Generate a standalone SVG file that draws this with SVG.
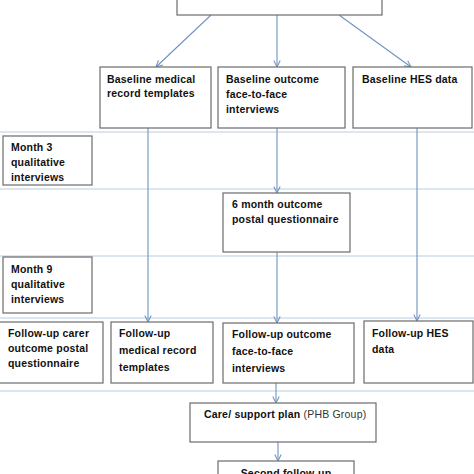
<svg xmlns="http://www.w3.org/2000/svg" width="474" height="474" viewBox="0 0 474 474">
<defs>
<style>
.box{fill:#fff;stroke:#6b6b6b;stroke-width:1.2}
.sep{stroke:#b9cbe2;stroke-width:1.2}
.con{stroke:#6f93bf;stroke-width:1.1;fill:none}
text{font-family:"Liberation Sans",Arial,sans-serif;font-size:10.5px;font-weight:bold;fill:#111;letter-spacing:0.2px}
.n{font-weight:normal;fill:#333}
</style>
<marker id="arr" viewBox="0 0 10 10" refX="9" refY="5" markerWidth="8" markerHeight="8" orient="auto" markerUnits="userSpaceOnUse">
<polyline points="1,1 9,5 1,9" fill="none" stroke="#6f93bf" stroke-width="1.3"/>
</marker>
</defs>
<rect width="474" height="474" fill="#fff"/>
<g id="separators">
<line class="sep" x1="0" y1="132" x2="474" y2="132"/>
<line class="sep" x1="0" y1="189" x2="474" y2="189"/>
<line class="sep" x1="0" y1="256" x2="474" y2="256"/>
<line class="sep" x1="0" y1="318" x2="474" y2="318"/>
<line class="sep" x1="0" y1="391" x2="474" y2="391"/>
</g>
<g id="connectors">
<line class="con" x1="211" y1="15" x2="156" y2="67" marker-end="url(#arr)"/>
<line class="con" x1="277" y1="15" x2="277" y2="67" marker-end="url(#arr)"/>
<line class="con" x1="339" y1="15" x2="411" y2="67" marker-end="url(#arr)"/>
<line class="con" x1="148" y1="128" x2="148" y2="322" marker-end="url(#arr)"/>
<line class="con" x1="277" y1="128" x2="277" y2="193" marker-end="url(#arr)"/>
<line class="con" x1="417" y1="128" x2="417" y2="321" marker-end="url(#arr)"/>
<line class="con" x1="277" y1="252" x2="277" y2="323" marker-end="url(#arr)"/>
<line class="con" x1="276" y1="383" x2="276" y2="403" marker-end="url(#arr)"/>
<line class="con" x1="278" y1="442" x2="278" y2="461" marker-end="url(#arr)"/>
</g>
<g id="top"><rect class="box" x="177" y="-10" width="205" height="25"/></g>
<g id="baseline-medical"><rect class="box" x="100" y="67" width="111" height="61"/>
<text x="107" y="83">Baseline medical</text><text x="107" y="97">record templates</text></g>
<g id="baseline-outcome"><rect class="box" x="218" y="67" width="127" height="61"/>
<text x="226" y="83">Baseline outcome</text><text x="226" y="98">face-to-face</text><text x="226" y="113">interviews</text></g>
<g id="baseline-hes"><rect class="box" x="353" y="67" width="119" height="61"/>
<text x="362" y="83">Baseline HES data</text></g>
<g id="month3"><rect class="box" x="3" y="136" width="89" height="49"/>
<text x="11" y="151">Month 3</text><text x="11" y="166">qualitative</text><text x="11" y="181">interviews</text></g>
<g id="month6"><rect class="box" x="223" y="193" width="127" height="59"/>
<text x="232" y="208">6 month outcome</text><text x="232" y="223">postal questionnaire</text></g>
<g id="month9"><rect class="box" x="3" y="257" width="89" height="56"/>
<text x="11" y="273">Month 9</text><text x="11" y="288">qualitative</text><text x="11" y="303">interviews</text></g>
<g id="fu-carer"><rect class="box" x="-1" y="322" width="104" height="61"/>
<text x="8" y="337">Follow-up carer</text><text x="8" y="352">outcome postal</text><text x="8" y="367">questionnaire</text></g>
<g id="fu-medical"><rect class="box" x="111" y="322" width="102" height="61"/>
<text x="119" y="337">Follow-up</text><text x="119" y="354">medical record</text><text x="119" y="371">templates</text></g>
<g id="fu-outcome"><rect class="box" x="223" y="323" width="131" height="60"/>
<text x="232" y="338">Follow-up outcome</text><text x="232" y="355">face-to-face</text><text x="232" y="372">interviews</text></g>
<g id="fu-hes"><rect class="box" x="364" y="321" width="109" height="62"/>
<text x="372" y="337">Follow-up HES</text><text x="372" y="353">data</text></g>
<g id="care"><rect class="box" x="190" y="403" width="186" height="39"/>
<text x="204" y="418">Care/ support plan <tspan class="n">(PHB Group)</tspan></text></g>
<g id="second"><rect class="box" x="218" y="461" width="136" height="30"/>
<text x="286" y="477" text-anchor="middle">Second follow-up</text></g>
</svg>
